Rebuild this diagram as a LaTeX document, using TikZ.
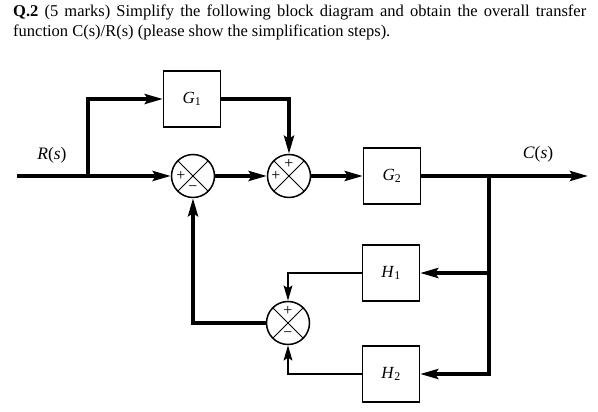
\documentclass[tikz,border=0pt]{standalone}
\usepackage{fontspec}
\setmainfont{Liberation Serif}
\usetikzlibrary{arrows.meta,calc,positioning}

\begin{document}
\begin{tikzpicture}[x=1pt,y=1pt,
    blk/.style={draw,line width=1.4pt,minimum width=57pt,minimum height=56pt,inner sep=0pt,font=\fontsize{17}{17}\selectfont},
    sumnode/.style={draw,circle,line width=1.5pt,minimum size=43pt,inner sep=0pt,
      path picture={\draw[line width=0.8pt] (path picture bounding box.north west)--(path picture bounding box.south east)
        (path picture bounding box.north east)--(path picture bounding box.south west);}},
    sgn/.style={font=\fontsize{16}{16}\selectfont,inner sep=0pt},
    sig/.style={line width=3.4pt,-{Stealth[length=18pt,width=10pt,inset=3pt]}},
    line/.style={line width=3.4pt},
    fb/.style={line width=2.7pt,-{Stealth[length=15pt,width=8.5pt,inset=2.5pt]}},
    lbl/.style={font=\fontsize{17.5}{17.5}\selectfont}]
                \useasboundingbox (0,0) rectangle (598,412);
                \node[anchor=north west,inner sep=0pt,text width=573pt,align=justify,font=\fontsize{16.5}{20}\selectfont] (title) at (13,407)
                    {\textbf{Q.2} (5 marks) Simplify the following block diagram and obtain the overall transfer\linebreak
                     function C(s)/R(s) (please show the simplification steps).};
                % forward path
                \coordinate (in) at (17,236);
                \coordinate (br1) at (88,236);
                \node[blk] (g1) at (192,313) {\textit{G}\textsubscript{1}};
                \node[sumnode] (s1) at (193,236) {};
                \node[sumnode] (s2) at (289,236) {};
                \node[blk] (g2) at (392,236) {\textit{G}\textsubscript{2}};
                \coordinate (br2) at (489,236);
                \coordinate (out) at (588,236);
                % feedback path
                \node[blk] (h1) at (391,139) {\textit{H}\textsubscript{1}};
                \node[blk] (h2) at (391,38) {\textit{H}\textsubscript{2}};
                \node[sumnode] (s3) at (288,89) {};
                \node[lbl] (rl) at (52,257) {\textit{R}(\textit{s})};
                \node[lbl] (cl) at (538,258) {\textit{C}(\textit{s})};
                % signs
                \node[sgn] at ($(s1)+(-12,0)$) {+};
                \node[sgn] at ($(s1)+(0,-13)$) {−};
                \node[sgn] at ($(s2)+(-13,0)$) {+};
                \node[sgn] at ($(s2)+(0,12)$) {+};
                \node[sgn] at ($(s3)+(0,12)$) {+};
                \node[sgn] at ($(s3)+(0,-12)$) {−};
                \draw[line](in)--(br1);
                \draw[sig](br1)--(s1.west);
                \draw[sig](br1)|-(g1.west);
                \draw[sig](g1.east)-|(s2.north);
                \draw[sig](s1.east)--(s2.west);
                \draw[sig](s2.east)--(g2.west);
                \draw[line](g2.east)--(br2);
                \draw[sig](br2)--(out);
                \draw[sig](br2)|-(h1.east);
                \draw[sig](br2)|-(h2.east);
                \draw[fb](h1.west)-|(s3.north);
                \draw[fb](h2.west)-|(s3.south);
                \draw[sig](s3.west)-|(s1.south);
            \end{tikzpicture}
\end{document}
